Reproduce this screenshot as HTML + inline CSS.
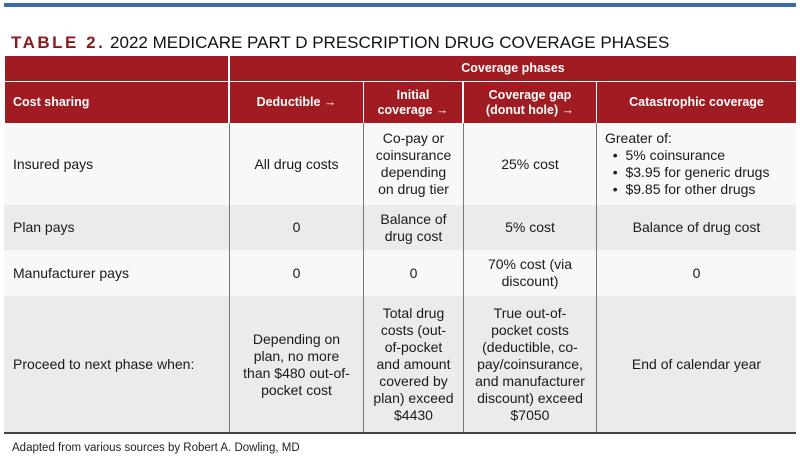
<!DOCTYPE html>
<html><head><meta charset="utf-8"><style>
*{margin:0;padding:0;box-sizing:border-box}
body{width:800px;height:458px;background:#fff;font-family:"Liberation Sans",sans-serif;position:relative;overflow:hidden;color:#1a1a1a}
.a{position:absolute}
.hd{background:#a01c22;color:#fff;font-weight:bold;font-size:12.5px;display:flex;align-items:center;justify-content:center;text-align:center;line-height:15px;white-space:nowrap}
.c{position:absolute;display:flex;align-items:center;justify-content:center;text-align:center;font-size:14px;line-height:17px}
.l{justify-content:flex-start;padding-left:9px;text-align:left}
.vl{position:absolute;width:1px;background:#777;top:123px;height:310px}
</style></head><body>
<div class="a" style="left:4px;top:3px;width:792px;height:4px;background:#3b6aa6"></div>
<div class="a" style="left:11px;top:33px;font-size:17px;white-space:nowrap;color:#111"><span style="color:#8b1a1f;font-weight:bold;letter-spacing:2.5px">TABLE 2.</span> 2022 MEDICARE PART D PRESCRIPTION DRUG COVERAGE PHASES</div>
<div class="a" style="left:4px;top:55px;width:792px;height:68px;background:#fff"></div>
<div class="a hd" style="left:5px;top:56px;width:223px;height:25px"></div>
<div class="a hd" style="left:230px;top:56px;width:566px;height:25px">Coverage phases</div>
<div class="a hd" style="left:5px;top:82px;width:223px;height:41px;justify-content:flex-start;padding-left:8px">Cost sharing</div>
<div class="a hd" style="left:230px;top:82px;width:133px;height:41px">Deductible →</div>
<div class="a hd" style="left:364px;top:82px;width:98px;height:41px">Initial<br>coverage →</div>
<div class="a hd" style="left:464px;top:82px;width:132px;height:41px">Coverage gap<br>(donut hole) →</div>
<div class="a hd" style="left:597px;top:82px;width:199px;height:41px">Catastrophic coverage</div>

<div class="a" style="left:4px;top:123px;width:792px;height:82px;background:#f8f8f8"></div>
<div class="a" style="left:4px;top:205px;width:792px;height:45px;background:#ebebeb"></div>
<div class="a" style="left:4px;top:250px;width:792px;height:46px;background:#f8f8f8"></div>
<div class="a" style="left:4px;top:296px;width:792px;height:137px;background:#ebebeb"></div>
<div class="vl" style="left:229px"></div>
<div class="vl" style="left:363px"></div>
<div class="vl" style="left:463px"></div>
<div class="vl" style="left:596px"></div>
<div class="a" style="left:4px;top:432px;width:792px;height:2px;background:#444"></div>

<div class="c l" style="left:4px;top:123px;width:225px;height:82px">Insured pays</div>
<div class="c" style="left:230px;top:123px;width:133px;height:82px">All drug costs</div>
<div class="c" style="left:364px;top:123px;width:99px;height:82px">Co-pay or<br>coinsurance<br>depending<br>on drug tier</div>
<div class="c" style="left:464px;top:123px;width:132px;height:82px">25% cost</div>
<div class="c" style="left:597px;top:123px;width:199px;height:82px;justify-content:flex-start;text-align:left;padding-left:8px">Greater of:<br>&nbsp;&nbsp;•&nbsp; 5% coinsurance<br>&nbsp;&nbsp;•&nbsp; $3.95 for generic drugs<br>&nbsp;&nbsp;•&nbsp; $9.85 for other drugs</div>

<div class="c l" style="left:4px;top:205px;width:225px;height:45px">Plan pays</div>
<div class="c" style="left:230px;top:205px;width:133px;height:45px">0</div>
<div class="c" style="left:364px;top:205px;width:99px;height:45px">Balance of<br>drug cost</div>
<div class="c" style="left:464px;top:205px;width:132px;height:45px">5% cost</div>
<div class="c" style="left:597px;top:205px;width:199px;height:45px">Balance of drug cost</div>

<div class="c l" style="left:4px;top:250px;width:225px;height:46px">Manufacturer pays</div>
<div class="c" style="left:230px;top:250px;width:133px;height:46px">0</div>
<div class="c" style="left:364px;top:250px;width:99px;height:46px">0</div>
<div class="c" style="left:464px;top:250px;width:132px;height:46px">70% cost (via<br>discount)</div>
<div class="c" style="left:597px;top:250px;width:199px;height:46px">0</div>

<div class="c l" style="left:4px;top:296px;width:225px;height:137px">Proceed to next phase when:</div>
<div class="c" style="left:230px;top:296px;width:133px;height:137px">Depending on<br>plan, no more<br>than $480 out-of-<br>pocket cost</div>
<div class="c" style="left:364px;top:296px;width:99px;height:137px">Total drug<br>costs (out-<br>of-pocket<br>and amount<br>covered by<br>plan) exceed<br>$4430</div>
<div class="c" style="left:464px;top:296px;width:132px;height:137px">True out-of-<br>pocket costs<br>(deductible, co-<br>pay/coinsurance,<br>and manufacturer<br>discount) exceed<br>$7050</div>
<div class="c" style="left:597px;top:296px;width:199px;height:137px">End of calendar year</div>

<div class="a" style="left:12px;top:442px;font-size:11.5px;color:#222">Adapted from various sources by Robert A. Dowling, MD</div>
</body></html>
